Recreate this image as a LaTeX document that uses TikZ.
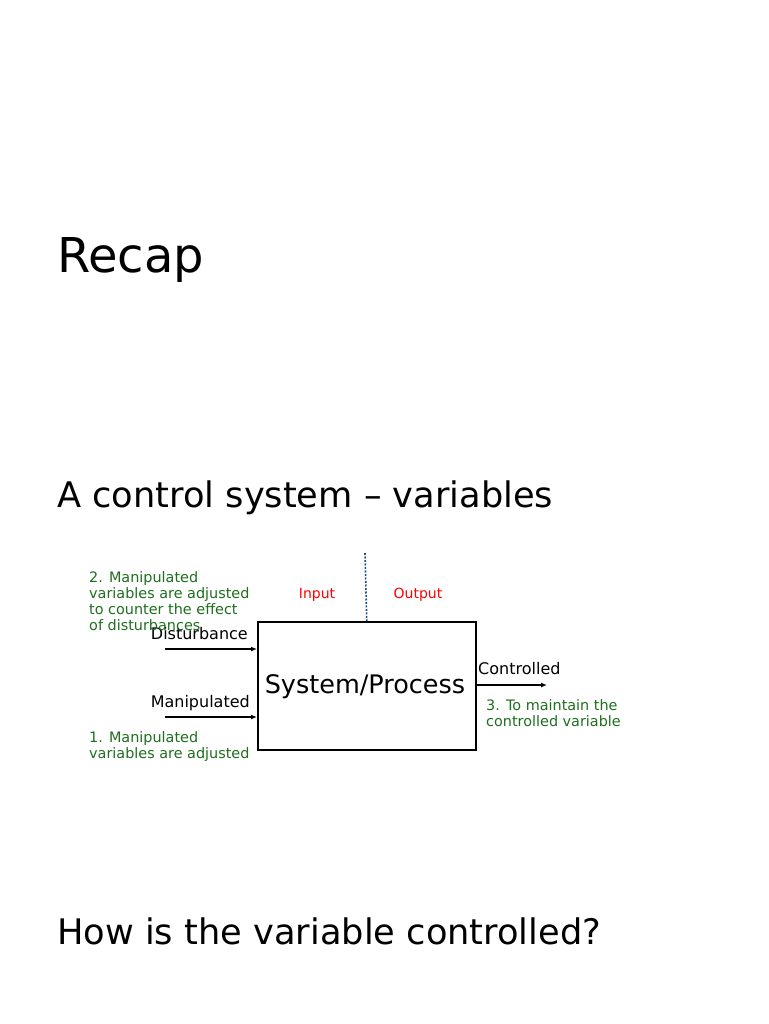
\documentclass[tikz,border=0pt]{standalone}
\usepackage{fontspec}
\setmainfont{DejaVu Sans}
\usetikzlibrary{arrows.meta}
\definecolor{grn}{RGB}{30,110,30}
\definecolor{dblue}{RGB}{30,80,130}
\begin{document}
\begin{tikzpicture}[x=1pt,y=-1pt,
  green/.style={text=grn,font=\fontsize{14.4}{16.2}\selectfont,align=left,inner sep=0},
  lbl/.style={font=\fontsize{16}{18}\selectfont,inner sep=0},
  red/.style={text=red,font=\fontsize{14}{16}\selectfont,inner sep=0},
  arr/.style={-{Latex[length=6pt,width=5pt]},line width=1.4pt}]
\useasboundingbox (0,0) rectangle (768,1024);
\node[anchor=west,inner sep=0,font=\fontsize{48}{52}\selectfont] (t1) at (57,260) {Recap};
\node[anchor=west,inner sep=0,font=\fontsize{35.2}{40}\selectfont] (t2) at (57,498) {A control system – variables};
\node[anchor=west,inner sep=0,font=\fontsize{35.2}{40}\selectfont] (t3) at (57,931) {How is the variable controlled?};
\node[draw,line width=1.5pt,minimum width=218pt,minimum height=128pt,anchor=north west,inner sep=0] (box) at (257,621) {};
\node[font=\fontsize{25.5}{28}\selectfont] (sp) at (365,687) {System/Process};
\draw[dblue,line width=1.6pt,dash pattern=on 2pt off 1.5pt] (365,553) coordinate (dtop) -- (box.north);
\node[red] (in) at (317,595) {Input};
\node[red] (out) at (418,595) {Output};
\coordinate (d0) at (165,649);
\coordinate (d1) at (257,649);
\coordinate (m0) at (165,717);
\coordinate (m1) at (257,717);
\coordinate (c0) at (475,685);
\coordinate (c1) at (547,685);
\draw[arr] (d0) -- (d1);
\draw[arr] (m0) -- (m1);
\draw[arr,line width=2.4pt] (c0) -- (c1);
\node[lbl,anchor=east] (dl) at (248,634) {Disturbance};
\node[lbl,anchor=east] (ml) at (250,703) {Manipulated};
\node[lbl,anchor=west] (cl) at (478,669) {Controlled};
\node[green,anchor=north west] (g2) at (89,571) {2. Manipulated\\variables are adjusted\\to counter the effect\\of disturbances};
\node[green,anchor=north west] (g1) at (89,731) {1. Manipulated\\variables are adjusted};
\node[green,anchor=north west] (g3) at (486,699) {3. To maintain the\\controlled variable};
\end{tikzpicture}
\end{document}
